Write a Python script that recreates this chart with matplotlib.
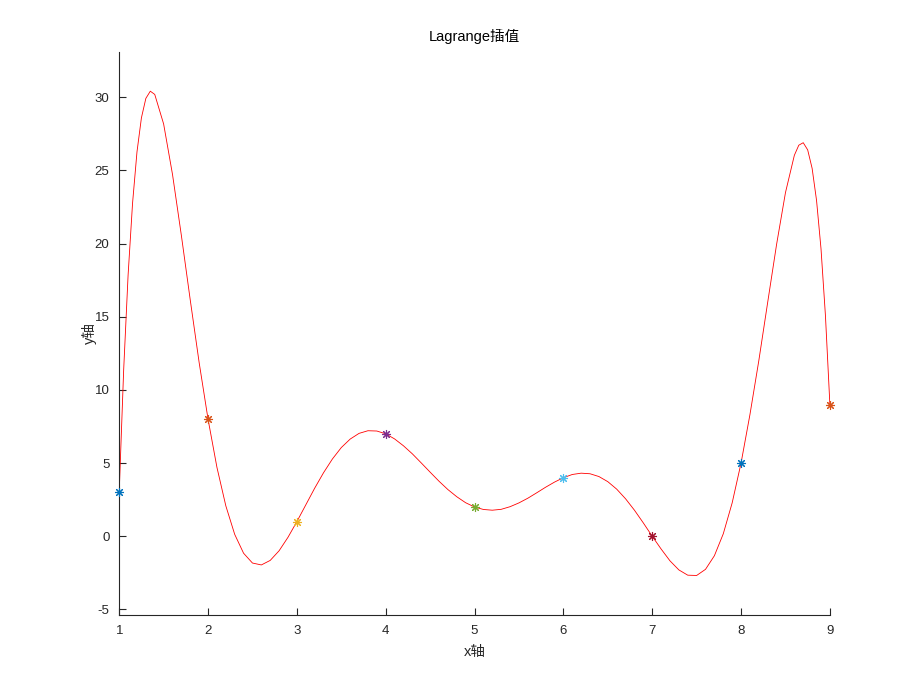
import numpy as np
import matplotlib
matplotlib.use("Agg")
import matplotlib.pyplot as plt

plt.rcParams['font.family'] = ['Liberation Sans', 'Noto Sans CJK SC']
plt.rcParams['axes.unicode_minus'] = False

# interpolation nodes
nodeX = [1, 2, 3, 4, 5, 6, 7, 8, 9]
nodeY = [3, 8, 1, 7, 2, 4, 0, 5, 9]

# the interpolating curve
curveX = [1.0, 1.05, 1.1, 1.15, 1.2, 1.25, 1.3, 1.35, 1.4, 1.5, 1.6, 1.7, 1.8, 1.9,
          2.0, 2.1, 2.2, 2.3, 2.4, 2.5, 2.6, 2.7, 2.8, 2.9,
          3.0, 3.1, 3.2, 3.3, 3.4, 3.5, 3.6, 3.7, 3.8, 3.9,
          4.0, 4.1, 4.2, 4.3, 4.4, 4.5, 4.6, 4.7, 4.8, 4.9,
          5.0, 5.1, 5.2, 5.3, 5.4, 5.5, 5.6, 5.7, 5.8, 5.9,
          6.0, 6.1, 6.2, 6.3, 6.4, 6.5, 6.6, 6.7, 6.8, 6.9,
          7.0, 7.1, 7.2, 7.3, 7.4, 7.5, 7.6, 7.7, 7.8, 7.9,
          8.0, 8.1, 8.2, 8.3, 8.4, 8.5, 8.6, 8.65, 8.7, 8.75, 8.8, 8.85, 8.9, 8.95, 9.0]
curveY = [3.0, 11.34, 17.84, 22.74, 26.26, 28.59, 29.92, 30.41, 30.19, 28.17, 24.72, 20.54, 16.13, 11.86,
          8.0, 4.71, 2.08, 0.13, -1.16, -1.83, -1.96, -1.65, -0.99, -0.07,
          1.0, 2.14, 3.28, 4.34, 5.28, 6.06, 6.64, 7.03, 7.21, 7.19,
          7.0, 6.65, 6.18, 5.63, 5.01, 4.38, 3.76, 3.19, 2.70, 2.29,
          2.0, 1.83, 1.78, 1.84, 2.02, 2.28, 2.60, 2.97, 3.35, 3.70,
          4.0, 4.22, 4.31, 4.27, 4.08, 3.73, 3.22, 2.56, 1.78, 0.91,
          0.0, -0.87, -1.68, -2.30, -2.66, -2.68, -2.26, -1.33, 0.17, 2.28,
          5.0, 8.31, 12.00, 15.99, 19.94, 23.48, 26.03, 26.72, 26.89, 26.40, 25.14, 22.94, 19.65, 15.07, 9.0]

# matlab default color order
matlabColors = ['#0072BD', '#D95319', '#EDB120', '#7E2F8E', '#77AC30', '#4DBEEE', '#A2142F']
axisColor = '#262626'

fig = plt.figure(figsize=(9.17, 6.91), dpi=100)
ax = fig.add_axes([0.13, 0.11, 0.775, 0.815])

ax.plot(curveX, curveY, color='red', linewidth=0.6, solid_joinstyle='round')
for i in range(len(nodeX)):
    ax.plot(nodeX[i], nodeY[i], linestyle='none', marker=(8, 2, 0), markersize=6.5,
            markeredgewidth=0.8, color=matlabColors[i % len(matlabColors)], clip_on=False, zorder=3)

ax.set_xlim(1, 9)
ax.set_ylim(-5.38, 33.1)
ax.set_xticks(range(1, 10))
ax.set_yticks(range(-5, 31, 5))

for side in ['top', 'right']:
    ax.spines[side].set_visible(False)
for side in ['left', 'bottom']:
    ax.spines[side].set_color(axisColor)
    ax.spines[side].set_linewidth(0.8)
ax.tick_params(direction='in', length=5, width=0.8, colors=axisColor, labelsize=9.5, pad=7)

ax.set_title('Lagrange插值', fontsize=10.5, color='black', pad=8)
ax.set_xlabel('x轴', fontsize=10.5, color=axisColor, labelpad=6)
ax.set_ylabel('y轴', fontsize=10.5, color=axisColor, labelpad=-2)

fig.savefig('out.png', dpi=100)
